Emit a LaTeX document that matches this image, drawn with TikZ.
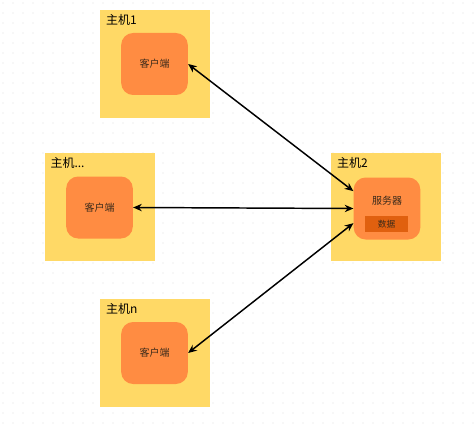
\documentclass[tikz,border=0pt]{standalone}
\usepackage{fontspec}
\setmainfont{Noto Sans CJK SC}
\usetikzlibrary{arrows.meta,positioning}
\definecolor{hostfill}{HTML}{FFD966}
\definecolor{appfill}{HTML}{FF8C42}
\definecolor{datafill}{HTML}{E0600F}
\definecolor{textdark}{HTML}{3A2A1A}
\tikzset{
  host/.style={fill=hostfill,minimum width=82.5pt,minimum height=81pt,inner sep=0pt},
  app/.style={fill=appfill,rounded corners=9pt,minimum width=50pt,minimum height=46.5pt,
    inner sep=0pt,font=\fontsize{7.5}{9}\selectfont,text=textdark},
  datablk/.style={fill=datafill,minimum width=32pt,minimum height=12pt,inner sep=0pt,
    font=\fontsize{6.5}{8}\selectfont,text=textdark},
  hostlabel/.style={anchor=north west,inner sep=0pt,font=\fontsize{9}{11}\selectfont,text=black},
  link/.style={{Stealth[length=6.5pt,width=5.5pt]}-{Stealth[length=6.5pt,width=5.5pt]},draw=black,line width=1.1pt}
}
\begin{document}
\begin{tikzpicture}[x=0.75pt,y=-0.75pt]
  \useasboundingbox (0,0) rectangle (474,424);
  \fill[white] (0,0) rectangle (474,424);
  % dotted grid
  \foreach \gx in {3,13,...,473}
    \foreach \gy in {3,13,...,423}
      \fill[black!12] (\gx,\gy) circle (0.45pt);

  % hosts
  \node[host] (h1) at (155,64) {};
  \node[host] (hx) at (99.5,206.5) {};
  \node[host] (h2) at (386,207) {};
  \node[host] (hn) at (155,352.5) {};

  \node[hostlabel] at ([xshift=4.5pt,yshift=-3.5pt]h1.north west) {主机1};
  \node[hostlabel] at ([xshift=4.5pt,yshift=-3.5pt]hx.north west) {主机...};
  \node[hostlabel] at ([xshift=4.5pt,yshift=-3.5pt]h2.north west) {主机2};
  \node[hostlabel] at ([xshift=4.5pt,yshift=-3.5pt]hn.north west) {主机n};

  % apps
  \node[app] (c1) at (154.5,64) {客户端};
  \node[app] (cx) at (99.5,207.5) {客户端};
  \node[app] (cn) at (154.5,353) {客户端};
  \node[app,text depth=12pt] (srv) at (387,208.5) {服务器};
  \node[datablk] (db) at (386.5,224) {数据};

  % links
  \draw[link] (c1.east) -- ([yshift=13pt]srv.west);
  \draw[link] (cx.east) -- (srv.west);
  \draw[link] (cn.east) -- ([yshift=-11pt]srv.west);
\end{tikzpicture}
\end{document}
